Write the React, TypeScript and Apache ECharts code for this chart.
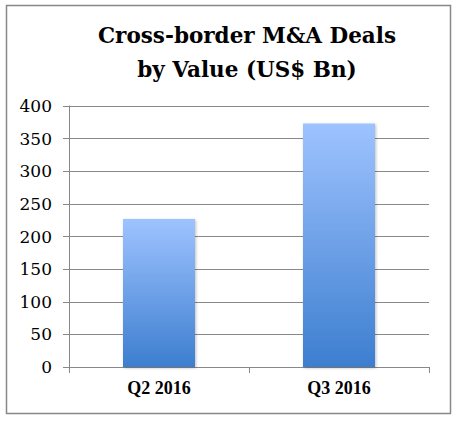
import React, { useEffect, useRef } from "react";
import * as echarts from "echarts";

const categories = ["Q2 2016", "Q3 2016"];
const dealValues = [227, 373];
const titleLines = ["Cross-border M&A Deals", "by Value (US$ Bn)"];

export default function App() {
  const ref = useRef<HTMLDivElement>(null);
  useEffect(() => {
    document.body.style.margin = "0";
    const chart = echarts.init(ref.current!, null, { renderer: "svg" });
    chart.setOption({
      animation: false,
      backgroundColor: "#ffffff",
      title: {
        text: titleLines.join("\n"),
        left: 242,
        textAlign: "center",
        top: 13,
        textStyle: {
          fontFamily: "DejaVu Serif",
          fontWeight: "bold",
          fontSize: 21.5,
          lineHeight: 34,
          color: "#000",
        },
      },
      graphic: [
        {
          type: "rect",
          shape: { x: 6.5, y: 5.5, width: 444, height: 408 },
          style: { fill: "none", stroke: "#888888", lineWidth: 1.5 },
          silent: true,
        },
      ],
      grid: { left: 69, right: 28, top: 106, bottom: 54 },
      xAxis: {
        type: "category",
        data: categories,
        axisLine: { lineStyle: { color: "#888888", width: 1 } },
        axisTick: { show: true, length: 6, lineStyle: { color: "#888888" } },
        axisLabel: {
          fontFamily: "Liberation Serif",
          fontWeight: "bold",
          fontSize: 18,
          color: "#000",
          margin: 12,
        },
      },
      yAxis: {
        type: "value",
        min: 0,
        max: 400,
        interval: 50,
        axisLine: { show: true, lineStyle: { color: "#888888", width: 1 } },
        axisTick: { show: true, length: 6, lineStyle: { color: "#888888" } },
        splitLine: { lineStyle: { color: "#888888", width: 1 } },
        axisLabel: {
          fontFamily: "DejaVu Serif",
          fontSize: 17,
          color: "#000",
          margin: 17,
        },
      },
      series: [
        {
          type: "bar",
          data: dealValues,
          barWidth: "40%",
          itemStyle: {
            color: new echarts.graphic.LinearGradient(0, 0, 0, 1, [
              { offset: 0, color: "#9ec3ff" },
              { offset: 1, color: "#3d7ecf" },
            ]),
            shadowColor: "rgba(0,0,0,0.25)",
            shadowBlur: 3,
            shadowOffsetX: 1,
            shadowOffsetY: 1,
          },
        },
      ],
    });
    return () => chart.dispose();
  }, []);
  return <div ref={ref} style={{ width: 457, height: 421 }} />;
}
